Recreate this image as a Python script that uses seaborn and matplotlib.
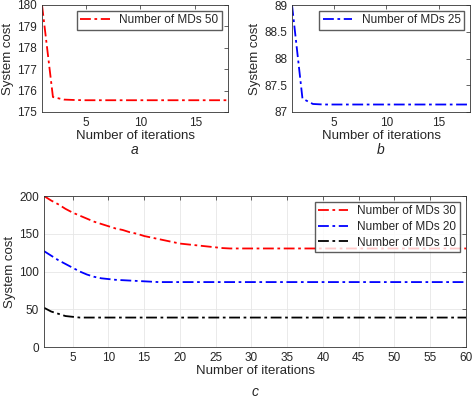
import matplotlib
matplotlib.use("Agg")
import matplotlib.pyplot as plt
from matplotlib.ticker import FormatStrFormatter
import seaborn as sns

sns.set_style("white")
plt.rcParams['font.family'] = ['Liberation Sans', 'DejaVu Sans']

iters_ab = list(range(1, 19))
cost_50 = [180, 175.7, 175.58, 175.56, 175.55, 175.55, 175.55, 175.55, 175.55,
           175.55, 175.55, 175.55, 175.55, 175.55, 175.55, 175.55, 175.55, 175.55]
cost_25 = [89, 87.25, 87.15, 87.14, 87.14, 87.14, 87.14, 87.14, 87.14,
           87.14, 87.14, 87.14, 87.14, 87.14, 87.14, 87.14, 87.14, 87.14]

iters_c = list(range(1, 61))
cost_30 = [200, 194, 189, 183, 178, 174, 170, 166, 163, 160,
           157, 155, 152, 150, 147, 145, 143, 141, 139, 137,
           136, 135, 134, 133, 132, 131, 130.5] + [130.5] * 33
cost_20 = [127, 121, 115, 110, 105, 100, 96, 93, 91, 90,
           89, 88.5, 88, 87.5, 87, 86.5, 86] + [86] * 43
cost_10 = [52, 47, 44, 41, 40] + [39] * 55

fig = plt.figure(figsize=(4.74, 4.03), dpi=100)
W, H = 474, 403
def ax_at(l, t, r, b):
    return fig.add_axes([l / W, 1 - b / H, (r - l) / W, (b - t) / H])

fs = 8.5
def style(ax):
    for s in ax.spines.values():
        s.set_color('#333333'); s.set_linewidth(0.6)
    ax.tick_params(labelsize=fs, direction='in', length=3, width=0.5, top=True, right=True)
    ax.set_xlabel("Number of iterations", fontsize=fs + 1, labelpad=1)
    ax.set_ylabel("System cost", fontsize=fs + 1, labelpad=2)
    ax.yaxis.set_major_formatter(FormatStrFormatter('%g'))

ls = (0, (6, 2, 1.5, 2))
legkw = dict(loc='upper right', fontsize=fs, frameon=True, fancybox=False, edgecolor='#333333',
             borderpad=0.3, handlelength=2.5, labelspacing=0.3)

axa = ax_at(42, 5, 228, 112)
sns.lineplot(x=iters_ab, y=cost_50, ax=axa, color='red', linestyle=ls, lw=1.3, label="Number of MDs 50")
axa.set_xlim(1, 18); axa.set_ylim(175, 180)
axa.set_xticks([5, 10, 15]); axa.set_yticks([175, 176, 177, 178, 179, 180])
style(axa)
axa.legend(**legkw)

axb = ax_at(292, 5, 470, 112)
sns.lineplot(x=iters_ab, y=cost_25, ax=axb, color='blue', linestyle=ls, lw=1.3, label="Number of MDs 25")
axb.set_xlim(1, 18); axb.set_ylim(87, 89)
axb.set_xticks([5, 10, 15]); axb.set_yticks([87, 87.5, 88, 88.5, 89])
style(axb)
axb.legend(**legkw)

axc = ax_at(44, 196, 466, 347)
for y, c, lab in [(cost_30, 'red', "Number of MDs 30"), (cost_20, 'blue', "Number of MDs 20"), (cost_10, 'black', "Number of MDs 10")]:
    sns.lineplot(x=iters_c, y=y, ax=axc, color=c, linestyle=ls, lw=1.3, label=lab)
axc.set_xlim(1, 60); axc.set_ylim(0, 200)
axc.set_xticks(list(range(5, 61, 5))); axc.set_yticks([0, 50, 100, 150, 200])
axc.grid(True, color='#e6e6e6', lw=0.6)
style(axc)
axc.legend(**legkw)

fig.text(135 / W, 1 - 150 / H, "a", fontsize=10, style='italic', ha='center', va='center')
fig.text(381 / W, 1 - 150 / H, "b", fontsize=10, style='italic', ha='center', va='center')
fig.text(255 / W, 1 - 392 / H, "c", fontsize=10, style='italic', ha='center', va='center')

fig.savefig("out.png", dpi=100)
